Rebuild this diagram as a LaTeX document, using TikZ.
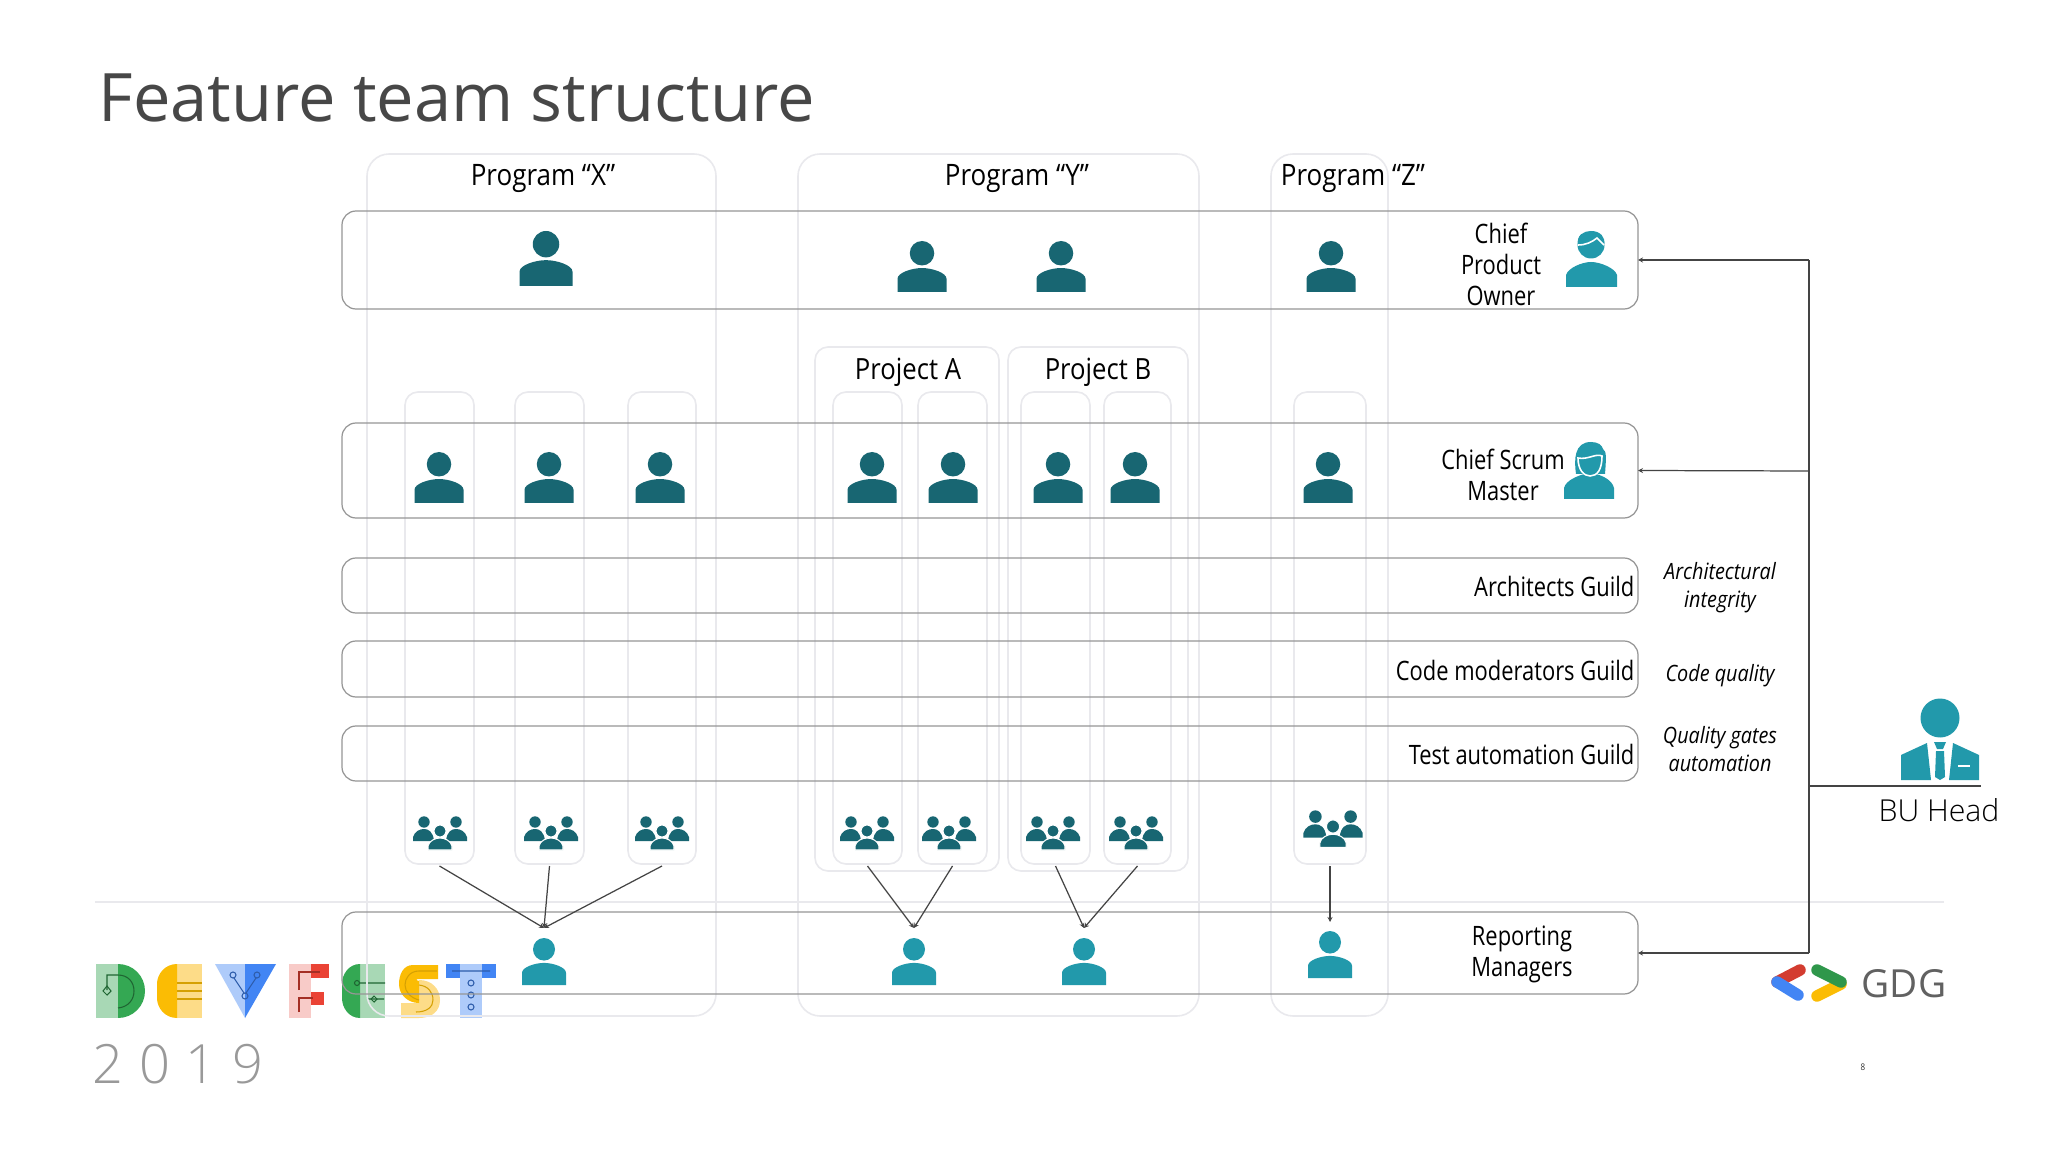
\documentclass[tikz,border=0pt]{standalone}
\usepackage{fontspec}
\usetikzlibrary{arrows.meta}
\setmainfont{Open Sans}[FakeStretch=0.88]
\newfontfamily\narrowfont{Open Sans}[FakeStretch=0.82]
\newfontfamily\titlefont{Open Sans}
\newfontfamily\gdgfont{Open Sans}
\newfontfamily\lightfont{Open Sans Light}
\newfontfamily\thinfont{Open Sans Light}[LetterSpace=29]
\definecolor{dteal}{HTML}{186672}
\definecolor{lteal}{HTML}{2299AB}
\definecolor{framegrey}{HTML}{E9E9ED}
\definecolor{rowgrey}{HTML}{969696}
\definecolor{linegrey}{HTML}{444444}
\definecolor{gA}{HTML}{34A853}\definecolor{gB}{HTML}{A8D8B5}
\definecolor{yA}{HTML}{FBBC04}\definecolor{yB}{HTML}{FDDC88}
\definecolor{bA}{HTML}{4285F4}\definecolor{bB}{HTML}{AECBFA}
\definecolor{rA}{HTML}{EA4335}\definecolor{rB}{HTML}{F8CBC8}
\newcommand\frameNode[6]{\node[#1,minimum width={(#5-#3)*0.01cm},minimum height={(#6-#4)*0.01cm}] (#2) at ({(#3+#5)/2},{(#4+#6)/2}) {};}
\newcommand\who[5]{\pic[fill=#5,xscale=#4,yscale={#3-#2}] at (#1,#2) {personicon};}
\newcommand\crew[3]{\pic[scale=#3] at (#1,#2) {teamicon};}
\tikzset{
  personicon/.pic={
    \path[pic actions] (0,.24) ellipse [x radius=.25,y radius=.24];
    \path[pic actions] (-.5,1) -- (-.5,.74) .. controls (-.5,.62) and (-.2,.53) .. (0,.53) .. controls (.2,.53) and (.5,.62) .. (.5,.74) -- (.5,1) -- cycle;
  },
  teamicon/.pic={
    \path[fill=dteal] (-16,6) circle (5.7);
    \path[fill=dteal] (16,6) circle (5.7);
    \path[fill=dteal] (-27,25) -- (-27,21) .. controls (-25,15) and (-20,13) .. (-16,13) .. controls (-12,13) and (-7,15) .. (-6,25) -- cycle;
    \path[fill=dteal] (27,25) -- (27,21) .. controls (25,15) and (20,13) .. (16,13) .. controls (12,13) and (7,15) .. (6,25) -- cycle;
    \path[fill=dteal,draw=white,line width=.3pt] (0,15) circle (6);
    \path[fill=dteal,draw=white,line width=.3pt] (-12,34) -- (-12,30) .. controls (-11,25) and (-5,22) .. (0,22) .. controls (5,22) and (11,25) .. (12,30) -- (12,34) -- cycle;
  },
  framebox/.style={draw=framegrey,line width=.45pt,rounded corners=.22cm,inner sep=0,outer sep=0},
  colbox/.style={draw=framegrey,line width=.45pt,rounded corners=.13cm,inner sep=0,outer sep=0},
  rowbox/.style={draw=rowgrey,line width=.35pt,rounded corners=.14cm,inner sep=0,outer sep=0},
  lab/.style={inner sep=0,text=black,font=\fontsize{7.6}{8.8}\selectfont\narrowfont,align=center},
  head/.style={inner sep=0,text=black,font=\fontsize{8.4}{10}\selectfont},
  note/.style={inner sep=0,text=black,font=\fontsize{6.4}{7.9}\selectfont\itshape,align=center},
  conn/.style={draw=linegrey,line width=.35pt,-{Stealth[length=.05cm,width=.05cm]}},
  busline/.style={draw=linegrey,line width=.5pt},
  logoline/.style={line width=.3pt},
}
\begin{document}
\begin{tikzpicture}[x=0.01cm,y=-0.01cm]
\useasboundingbox[fill=white] (0,0) rectangle (2048,1152);
% title and separator
\node[inner sep=0,anchor=base west,text=black!72,font=\fontsize{19}{22}\selectfont\titlefont] (title) at (98,122) {Feature team structure};
\coordinate (ruleL) at (95,902); \coordinate (ruleR) at (1944,902);
\draw[draw=framegrey,line width=.6pt] (ruleL) -- (ruleR);
% DevFest logo
\fill[gB] (96,964) rectangle (118,1018);
\fill[gA] (118,964) .. controls (133,964) and (145,976) .. (145,991) .. controls (145,1006) and (133,1018) .. (118,1018) -- cycle;
\draw[logoline,draw=gA!60!black] (107,990) -- (107,975) -- (118,975) .. controls (128,975) and (134,982) .. (134,991) .. controls (134,1000) and (128,1007) .. (118,1008);
\draw[logoline,draw=gA!60!black] (107,986) -- (111,991) -- (107,995) -- (103,991) -- cycle;
\fill[yB] (177,964) rectangle (202,1018);
\fill[yA] (177,964) .. controls (165,964) and (157,974) .. (157,984) -- (157,998) .. controls (157,1008) and (165,1018) .. (177,1018) -- cycle;
\foreach \yy in {983,991,999} \draw[logoline,draw=yA!85!black] (177,\yy) -- (202,\yy);
\fill[bB] (215,964) -- (245,964) -- (245,1018) -- cycle;
\fill[bA] (245,964) -- (276,964) -- (245,1018) -- cycle;
\draw[logoline,draw=bA!70!black] (233,975) circle (3) (257,975) circle (3) (245,996) circle (3) (234,978) -- (244,993) (256,978) -- (246,993);
\fill[rB] (289,964) rectangle (311,1018);
\fill[rA] (311,964) rectangle (329,978);
\fill[rA] (311,992) rectangle (324,1005);
\draw[logoline,draw=rA!70!black] (299,990) -- (299,972) -- (320,972) (299,1012) -- (299,998) -- (313,998);
\fill[gB] (360,964) rectangle (385,1018);
\fill[gA] (360,964) .. controls (349,964) and (342,974) .. (342,984) -- (342,998) .. controls (342,1008) and (349,1018) .. (360,1018) -- cycle;
\draw[logoline,draw=gA!60!black] (360,983) -- (385,983) (357,983) circle (2.5) (367,999) -- (384,999);
\draw[logoline,draw=gA!60!black] (374,996) -- (377,999) -- (374,1002) -- (371,999) -- cycle;
\fill[yB] (419,980) .. controls (432,980) and (440,989) .. (440,1000) .. controls (440,1011) and (432,1018) .. (419,1018) -- (401,1018) -- (401,1003) -- (419,1003) -- cycle;
\fill[yA] (438,965) -- (413,965) .. controls (403,965) and (399,975) .. (399,984) .. controls (399,995) and (408,1003) .. (419,1003) -- (419,981) .. controls (415,980) and (416,979) .. (420,979) -- (438,979) -- cycle;
\draw[logoline,draw=yA!85!black] (437,971) -- (419,971) .. controls (410,971) and (405,978) .. (405,985) .. controls (405,992) and (411,998) .. (419,1000) (419,985) .. controls (428,986) and (433,992) .. (433,1000) .. controls (433,1007) and (427,1012) .. (416,1012);
\fill[bB] (446,964) rectangle (496,978);
\fill[bB] (460,978) rectangle (482,1018);
\fill[bA] (446,964) rectangle (460,978);
\fill[bA] (482,964) rectangle (496,978);
\draw[logoline,draw=bA!70!black] (452,971) -- (490,971) (471,983) circle (3) (471,995) circle (3) (471,1007) circle (3);
\node[inner sep=0,anchor=base west,text=black!40,font=\fontsize{15.4}{18}\selectfont\thinfont] (year) at (92,1083) {2019};
% GDG logo
\draw[line width=.115cm,line cap=round,draw=rA!90!black] (1800,970) -- (1777,982);
\draw[line width=.115cm,line cap=round,draw=bA] (1777,982) -- (1798,995);
\draw[line width=.115cm,line cap=round,draw=yA] (1841,984) -- (1817,996);
\draw[line width=.115cm,line cap=round,draw=gA!90!black] (1817,970) -- (1841,982);
\node[inner sep=0,anchor=base west,text=black!62,font=\fontsize{11}{13}\selectfont\gdgfont] (gdg) at (1861,997) {GDG};
\node[inner sep=0,text=black!80,font=\fontsize{2.6}{3}\selectfont] (pageno) at (1863,1067) {8};
% frames
\frameNode{framebox}{progX}{367}{154}{716}{1016}
\frameNode{framebox}{progY}{798}{154}{1199}{1016}
\frameNode{framebox}{progZ}{1271}{154}{1388}{1016}
\frameNode{colbox}{projA}{815}{347}{999}{871}
\frameNode{colbox}{projB}{1008}{347}{1188}{871}
\frameNode{colbox}{colA}{405}{392}{474}{864}
\frameNode{colbox}{colB}{515}{392}{584}{864}
\frameNode{colbox}{colC}{628}{392}{696}{864}
\frameNode{colbox}{colD}{833}{392}{902}{864}
\frameNode{colbox}{colE}{918}{392}{987}{864}
\frameNode{colbox}{colF}{1021}{392}{1090}{864}
\frameNode{colbox}{colG}{1104}{392}{1171}{864}
\frameNode{colbox}{colH}{1294}{392}{1366}{864}
\frameNode{rowbox}{rowA}{342}{211}{1638}{309}
\frameNode{rowbox}{rowB}{342}{423}{1638}{518}
\frameNode{rowbox}{rowC}{342}{558}{1638}{613}
\frameNode{rowbox}{rowD}{342}{641}{1638}{697}
\frameNode{rowbox}{rowE}{342}{726}{1638}{781}
\frameNode{rowbox}{rowF}{342}{912}{1638}{994}
% labels
\node[head] (lX) at (543,179) {Program “X”};
\node[head] (lY) at (1017,179) {Program “Y”};
\node[head] (lZ) at (1353,179) {Program “Z”};
\node[head,font=\fontsize{8.3}{10}\selectfont] (lPA) at (908,372) {Project A};
\node[head,font=\fontsize{8.3}{10}\selectfont] (lPB) at (1098,372) {Project B};
\node[lab] (lCPO) at (1501,264) {Chief\\Product\\Owner};
\node[lab] (lCSM) at (1503,475) {Chief Scrum\\Master};
\node[lab,anchor=east] (lAG) at (1635,586) {Architects Guild};
\node[lab,anchor=east] (lCG) at (1635,670) {Code moderators Guild};
\node[lab,anchor=east] (lTG) at (1635,754) {Test automation Guild};
\node[lab] (lRM) at (1522,954) {Reporting\\Managers};
\node[note] (nA) at (1720,588) {Architectural\\integrity};
\node[note] (nC) at (1720,676) {Code quality};
\node[note] (nQ) at (1720,749) {Quality gates\\automation};
\node[inner sep=0,text=black,font=\fontsize{8.6}{10}\selectfont\lightfont] (lBU) at (1939,810) {BU Head};
% people row 1
\who{546}{231}{286}{53}{dteal}
\who{922}{241}{292}{49}{dteal}
\who{1061}{241}{292}{49}{dteal}
\who{1331}{241}{292}{49}{dteal}
% people row 2
\foreach \px in {439,549,660,872,953,1058,1135,1328} {\who{\px}{452}{503}{49}{dteal}}
% teams
\foreach \px in {440,551,662,867,949,1053,1136} {\crew{\px}{816}{1}}
\crew{1333}{810}{1.1}
% managers
\who{544}{938}{985}{44}{lteal}
\who{914}{938}{985}{44}{lteal}
\who{1084}{938}{985}{44}{lteal}
\who{1330}{931}{978}{44}{lteal}
% chief product owner
\fill[lteal] (1591,245) circle (13.5);
\fill[lteal] (1578,245) .. controls (1576,235) and (1584,231) .. (1591,231) .. controls (1600,231) and (1606,237) .. (1604,245) -- cycle;
\draw[white,line width=.45pt] (1578,245) .. controls (1586,245) and (1592,242) .. (1597,238) .. controls (1600,241) and (1602,243) .. (1604,245);
\fill[lteal] (1566,287) -- (1566,275) .. controls (1568,268) and (1582,262) .. (1591,262) .. controls (1600,262) and (1615,268) .. (1617,275) -- (1617,287) -- cycle;
% chief scrum master
\fill[lteal] (1576,474) .. controls (1574,460) and (1574,442) .. (1591,442) .. controls (1598,442) and (1602,445) .. (1603,449) .. controls (1607,451) and (1606,460) .. (1605,474) -- cycle;
\fill[lteal] (1564,499) -- (1564,488) .. controls (1566,480) and (1578,476) .. (1584,474) -- (1596,474) .. controls (1603,476) and (1612,480) .. (1614,488) -- (1614,499) -- cycle;
\draw[white,line width=.45pt] (1578,458) .. controls (1578,470) and (1584,476) .. (1590,476) .. controls (1597,476) and (1602,470) .. (1602,456) .. controls (1596,453) and (1588,460) .. (1578,458) -- cycle;
% BU head
\fill[lteal] (1940,718) circle (19.5);
\fill[lteal] (1901,780) -- (1901,755) -- (1927,743) -- (1931,780) -- cycle;
\fill[lteal] (1979,780) -- (1979,755) -- (1953,743) -- (1949,780) -- cycle;
\fill[lteal] (1934,742) -- (1946,742) -- (1943,749) -- (1937,749) -- cycle;
\fill[lteal] (1936,751) -- (1944,751) -- (1945,777) -- (1940,780) -- (1935,777) -- cycle;
\fill[white] (1958,765) rectangle (1970,767);
% reporting connectors
\coordinate (mgrA) at (544,928); \coordinate (mgrB) at (914,928); \coordinate (mgrC) at (1084,928); \coordinate (mgrD) at (1330,922);
\draw[conn] (colA.south) ++(0,2) -- (mgrA);
\draw[conn] (colB.south) ++(0,2) -- (mgrA);
\draw[conn] (colC.south) ++(0,2) -- (mgrA);
\draw[conn] (colD.south) ++(0,2) -- (mgrB);
\draw[conn] (colE.south) ++(0,2) -- (mgrB);
\draw[conn] (colF.south) ++(0,2) -- (mgrC);
\draw[conn] (colG.south) ++(0,2) -- (mgrC);
\draw[conn] (colH.south) ++(0,2) -- (mgrD);
% BU head bus
\coordinate (busTop) at (1809,260); \coordinate (busMid) at (1809,471); \coordinate (busFork) at (1809,786); \coordinate (busEnd) at (1809,953); \coordinate (buFoot) at (1981,786);
\draw[busline] (busEnd) -- (busTop);
\draw[busline] (busFork) -- (buFoot);
\draw[conn] (busTop) -- (rowA.east);
\draw[conn] (busMid) -- (rowB.east);
\draw[conn] (busEnd) -- (rowF.east);
\end{tikzpicture}
\end{document}
